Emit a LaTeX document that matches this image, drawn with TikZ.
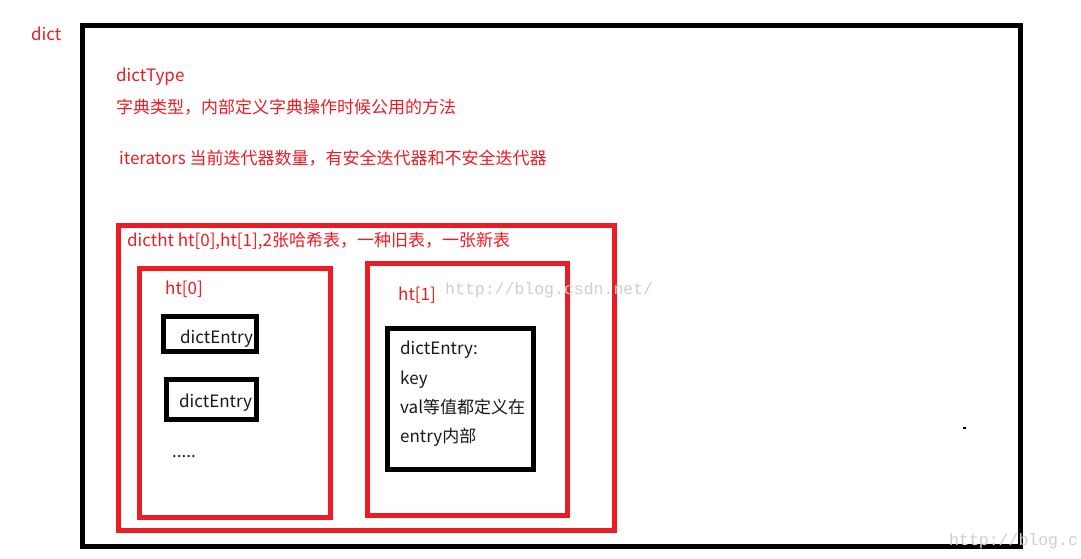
\documentclass[tikz,border=0pt]{standalone}
\usepackage{fontspec}
\setmainfont{Noto Sans CJK SC}
\newfontfamily\wmfont{Liberation Mono}
\definecolor{pred}{HTML}{ED1C24}
\definecolor{wmgray}{HTML}{CFCFCF}
\tikzset{
  redbox/.style={draw=pred, line width=5pt, inner sep=0pt, outer sep=0pt},
  blackbox/.style={draw=black, line width=5pt, inner sep=0pt, outer sep=0pt},
  redtxt/.style={text=pred, anchor=base west, inner sep=0pt, font=\fontsize{17}{20}\selectfont},
  blacktxt/.style={text=black!90, anchor=base west, inner sep=0pt, font=\fontsize{17}{20}\selectfont},
  wmtxt/.style={text=wmgray, anchor=base west, inner sep=0pt, font=\wmfont\fontsize{16.5}{18}\selectfont},
}
\begin{document}
\begin{tikzpicture}[x=1pt,y=-1pt]
\useasboundingbox (0,0) rectangle (1081,558);
\fill[white] (0,0) rectangle (1081,558);
% outer dict box
\node[blackbox, minimum width=938pt, minimum height=521pt] (dictbox) at (551.5,285.5) {};
\node[redtxt] (dictlbl) at (31,40) {dict};
\node[redtxt] (typelbl) at (116,81) {dictType};
\node[redtxt] (typedesc) at (116,113) {字典类型，内部定义字典操作时候公用的方法};
\node[redtxt] (iterlbl) at (119,164) {iterators 当前迭代器数量，有安全迭代器和不安全迭代器};
% dictht
\node[redbox, minimum width=495.5pt, minimum height=305pt] (htbox) at (366.25,378) {};
\node[redtxt] (htlbl) at (127,246) {dictht ht[0],ht[1],2张哈希表，一种旧表，一张新表};
% ht[0]
\node[redbox, minimum width=191pt, minimum height=248.5pt] (ht0) at (235,392.75) {};
\node[redtxt] (ht0lbl) at (165,294) {ht[0]};
\node[blacktxt] (e1txt) at (180,343) {dictEntry};
\node[blackbox, minimum width=93pt, minimum height=34.5pt] (e1) at (210,333.75) {};
\node[blacktxt] (e2txt) at (179,407) {dictEntry};
\node[blackbox, minimum width=90pt, minimum height=40pt] (e2) at (211.5,399.5) {};
\node[blacktxt] (dots) at (172,457) {.....};
% ht[1]
\node[redbox, minimum width=200pt, minimum height=252pt] (ht1) at (467,389.5) {};
\node[redtxt] (ht1lbl) at (398,300) {ht[1]};
\node[blackbox, minimum width=145.5pt, minimum height=141pt] (e3) at (460.25,399) {};
\node[blacktxt] (e3a) at (400,354) {dictEntry:};
\node[blacktxt] (e3b) at (400,384) {key};
\node[blacktxt] (e3c) at (400,413) {val等值都定义在};
\node[blacktxt] (e3d) at (400,442) {entry内部};
% stray mark
\fill[black] (962.5,426.5) rectangle (965.5,428.5);
% watermarks
\node[wmtxt] (wm1) at (445,294) {http://blog.csdn.net/};
\node[wmtxt] (wm2) at (949,545) {http://blog.c};
\end{tikzpicture}
\end{document}
